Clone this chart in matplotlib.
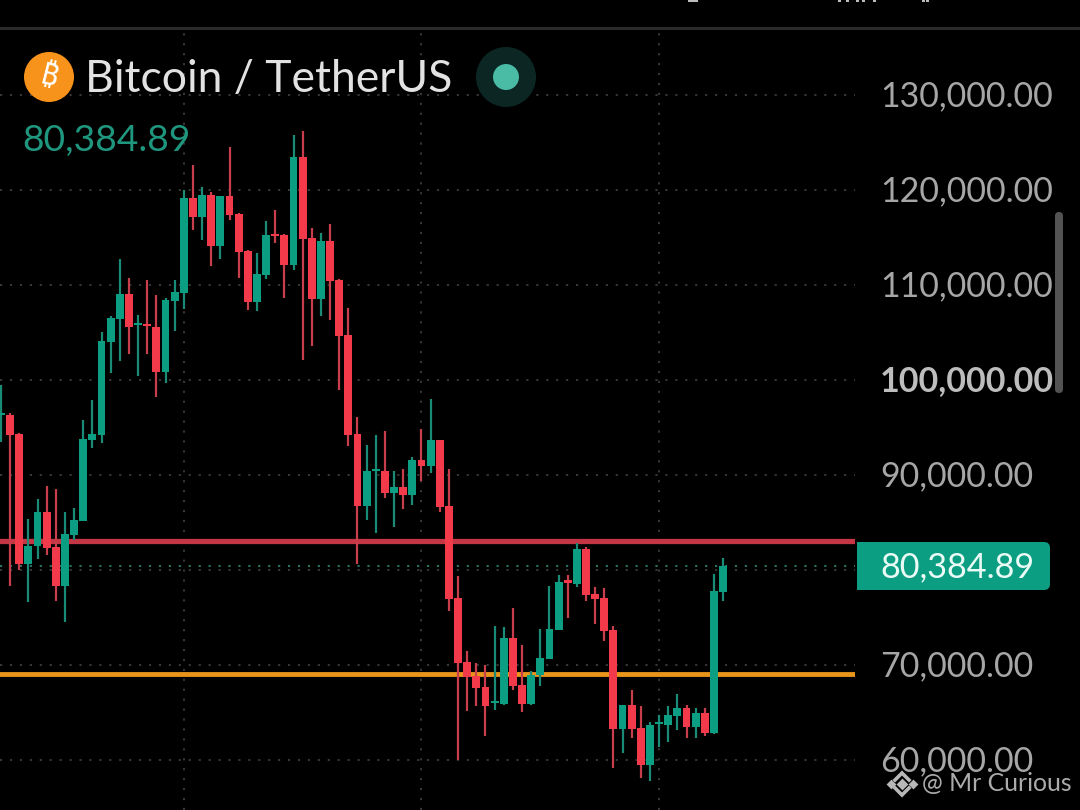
import matplotlib
matplotlib.use("Agg")
import matplotlib.pyplot as plt
from matplotlib.patches import Circle, FancyBboxPatch, Rectangle
from matplotlib.transforms import ScaledTranslation

# Свічки BTC/USDT, значення
opens = [96300, 96320, 94320, 80630, 82530, 86110, 82420, 78320, 83680, 85160,
         93680, 94210, 104000, 106420, 109050, 105790, 105790, 105580, 100840, 108320,
         109160, 119160, 117160, 119470, 114110, 119370, 117470, 113580, 108210, 111050,
         115260, 115260, 112110, 123470, 114950, 108530, 114630, 110530, 104740, 94320,
         86740, 90420, 90420, 88110, 88740, 87890, 91580, 90950, 93680, 86740,
         77050, 70320, 68840, 67680, 66000, 65900, 72840, 67900, 65900, 68950,
         70630, 73680, 78740, 78530, 82210, 77470, 77050, 73680, 63260, 65790,
         63370, 59470, 63790, 63680, 64630, 65470, 63470, 64950, 62840, 77680]
highs = [99470, 96530, 94420, 85370, 87470, 88840, 88530, 86110, 86530, 95790,
         97900, 105050, 106740, 112740, 110740, 106840, 110530, 108950, 108630, 110530,
         120000, 122630, 120320, 119790, 119370, 124530, 117580, 113680, 113370, 116740,
         117900, 115370, 125790, 126210, 116000, 115470, 116420, 110630, 107580, 96110,
         93160, 94210, 94630, 90420, 90630, 91900, 94840, 98000, 93680, 90630,
         79370, 71470, 70210, 70000, 74110, 74000, 76000, 72110, 69370, 73790,
         78320, 79470, 79470, 82840, 82420, 78210, 78110, 74110, 65790, 67370,
         65680, 64000, 64740, 65680, 66950, 65790, 65470, 65470, 79580, 81260]
lows = [93470, 78320, 80000, 76630, 81160, 81580, 76740, 74530, 83160, 85160,
        92840, 93370, 100740, 102000, 102740, 100420, 102740, 98210, 99680, 105160,
        107470, 115790, 114740, 112000, 112740, 116840, 110740, 107370, 107260, 110630,
        114420, 108630, 111580, 102110, 103580, 106740, 106320, 98950, 93050, 80630,
        85260, 83900, 87580, 84530, 86420, 86840, 89370, 90210, 86110, 75680,
        60000, 65160, 65680, 62530, 65260, 65790, 67370, 65050, 65790, 67790,
        70630, 73680, 74950, 78210, 76740, 74320, 72530, 59160, 60740, 62320,
        58110, 57790, 61370, 61900, 63160, 62320, 62320, 62530, 62740, 76740]
closes = [96320, 94210, 80630, 82530, 86110, 82320, 78320, 83790, 85260, 93790,
          94320, 104100, 106530, 109050, 105580, 105790, 105700, 100840, 108420, 109260,
          119160, 117160, 119470, 114110, 119370, 117370, 113470, 108210, 111160, 115260,
          115200, 112110, 123470, 114840, 108530, 114630, 110420, 104630, 94210, 86740,
          90420, 90420, 88110, 88740, 87890, 91580, 90950, 93680, 86630, 76950,
          70210, 68740, 67580, 65680, 66000, 72840, 67790, 65900, 68950, 70740,
          73790, 78740, 78680, 82210, 77370, 76950, 73580, 63260, 65790, 63260,
          59470, 63680, 63790, 64740, 65470, 63470, 64950, 62840, 77790, 80384.89]

price_ticks = [60000, 70000, 80000, 90000, 100000, 110000, 120000, 130000]
price_labels = ["60,000.00", "70,000.00", "", "90,000.00", "100,000.00",
                "110,000.00", "120,000.00", "130,000.00"]
time_ticks = [20, 46, 72]
resistance = 83050
support = 69050
last_price = 80384.89

UP = "#0C9E83"
DOWN = "#F23A4A"
UP_WICK = "#1A8B76"
DOWN_WICK = "#C83E4C"
GRID = "#3C3C3C"
FONT = "Lato"

plt.rcParams["font.family"] = [FONT, "DejaVu Sans"]

fig = plt.figure(figsize=(10.8, 8.1), dpi=100, facecolor="black")
ax = fig.add_axes([0, 0, 855 / 1080, 1], facecolor="black")
ax.set_xlim(-0.11, 93.43)
ax.set_ylim(54737, 140000)
for spine in ax.spines.values():
    spine.set_visible(False)

ax.set_xticks(time_ticks)
ax.set_xticklabels([])
ax.set_yticks(price_ticks)
ax.set_yticklabels(price_labels, fontsize=24.5, color="#A6A6A6")
ax.yaxis.tick_right()
ax.tick_params(axis="both", length=0)
ax.tick_params(axis="y", pad=18)
ax.grid(True, color=GRID, linewidth=1.3, linestyle=(0, (1.2, 4.3)))
ax.set_axisbelow(True)
shift_up = ScaledTranslation(0, 1.5 / 72, fig.dpi_scale_trans)
for label in ax.get_yticklabels():
    label.set_transform(label.get_transform() + shift_up)
    if label.get_text() == "100,000.00":
        label.set_fontweight("bold")
        label.set_color("#BDBDBD")

# Рівні та остання ціна
ax.axhline(last_price, color="#2C7F70", linewidth=1.3, linestyle=(0, (1.2, 4.3)), zorder=1)
ax.axhline(resistance, color="#C43644", linewidth=3.8, zorder=1.5)
ax.axhline(support, color="#E8951C", linewidth=3.5, zorder=1.5)

# Свічки
for i in range(len(opens)):
    rising = closes[i] >= opens[i]
    wick = UP_WICK if rising else DOWN_WICK
    body = UP if rising else DOWN
    ax.vlines(i, lows[i], highs[i], color=wick, linewidth=1.6, zorder=2)
    bottom = min(opens[i], closes[i])
    height = max(abs(closes[i] - opens[i]), 220)
    ax.add_patch(Rectangle((i - 0.43, bottom), 0.86, height, facecolor=body,
                           edgecolor="none", zorder=3))

# Шар у пікселях для шапки, плашки та підпису
top = fig.add_axes([0, 0, 1, 1])
top.set_xlim(0, 1080)
top.set_ylim(810, 0)
top.axis("off")
top.patch.set_alpha(0)

top.add_patch(Rectangle((0, 0), 1080, 27, facecolor="black", edgecolor="none"))
top.add_patch(Rectangle((0, 27), 1080, 3, facecolor="#2A2A2A", edgecolor="none"))
# обрізані значки над лінією
for x, w in [(688, 10), (838, 3), (846, 3), (856, 3), (862, 3), (873, 3), (922, 3), (926, 3)]:
    top.add_patch(Rectangle((x, 0), w, 1.5, facecolor="#BBBBBB", edgecolor="none"))

top.add_patch(Circle((49, 77), 25, facecolor="#F7931A", edgecolor="none"))
top.text(49.5, 77, "\u20bf", color="white", fontsize=22, fontweight="bold", rotation=-14,
         ha="center", va="center", family=["Noto Sans", "Inter", "Roboto", "Open Sans", "DejaVu Sans"])
top.text(85, 79, "Bitcoin / TetherUS", color="#E2E2E2", fontsize=32, va="center", ha="left")
top.add_patch(Circle((506, 77), 30, facecolor="#0B2623", edgecolor="none"))
top.add_patch(Circle((506, 77), 13, facecolor="#4ABBA5", edgecolor="none"))
top.text(22, 140, "80,384.89", color="#1F977F", fontsize=26.8, va="center", ha="left")

top.add_patch(FancyBboxPatch((857, 542), 193, 48, boxstyle="round,pad=0,rounding_size=6",
                             facecolor=UP, edgecolor="none"))
top.add_patch(Rectangle((857, 542), 10, 48, facecolor=UP, edgecolor="none"))
top.text(880, 567, "80,384.89", color="#EAFBF6", fontsize=24.7, va="center", ha="left")

top.add_patch(FancyBboxPatch((1055, 212), 8, 181, boxstyle="round,pad=0,rounding_size=4",
                             facecolor="white", alpha=0.33, edgecolor="none"))

# Логотип і підпис
logo = "#B8B8B8"
top.plot([895, 902, 909], [780, 773, 780], color=logo, linewidth=2.6, solid_joinstyle="miter", zorder=5)
top.plot([895, 902, 909], [788, 795, 788], color=logo, linewidth=2.6, solid_joinstyle="miter", zorder=5)
for x, size in [(891, 5), (902, 6), (913, 5)]:
    top.scatter(x, 784, marker="D", s=size ** 2, color=logo, linewidths=0, zorder=5)
top.text(922, 784, "@ Mr Curious", color="#ABABAB", fontsize=17.8, va="center", ha="left", zorder=5)

fig.savefig("out.png", dpi=100, facecolor="black")
